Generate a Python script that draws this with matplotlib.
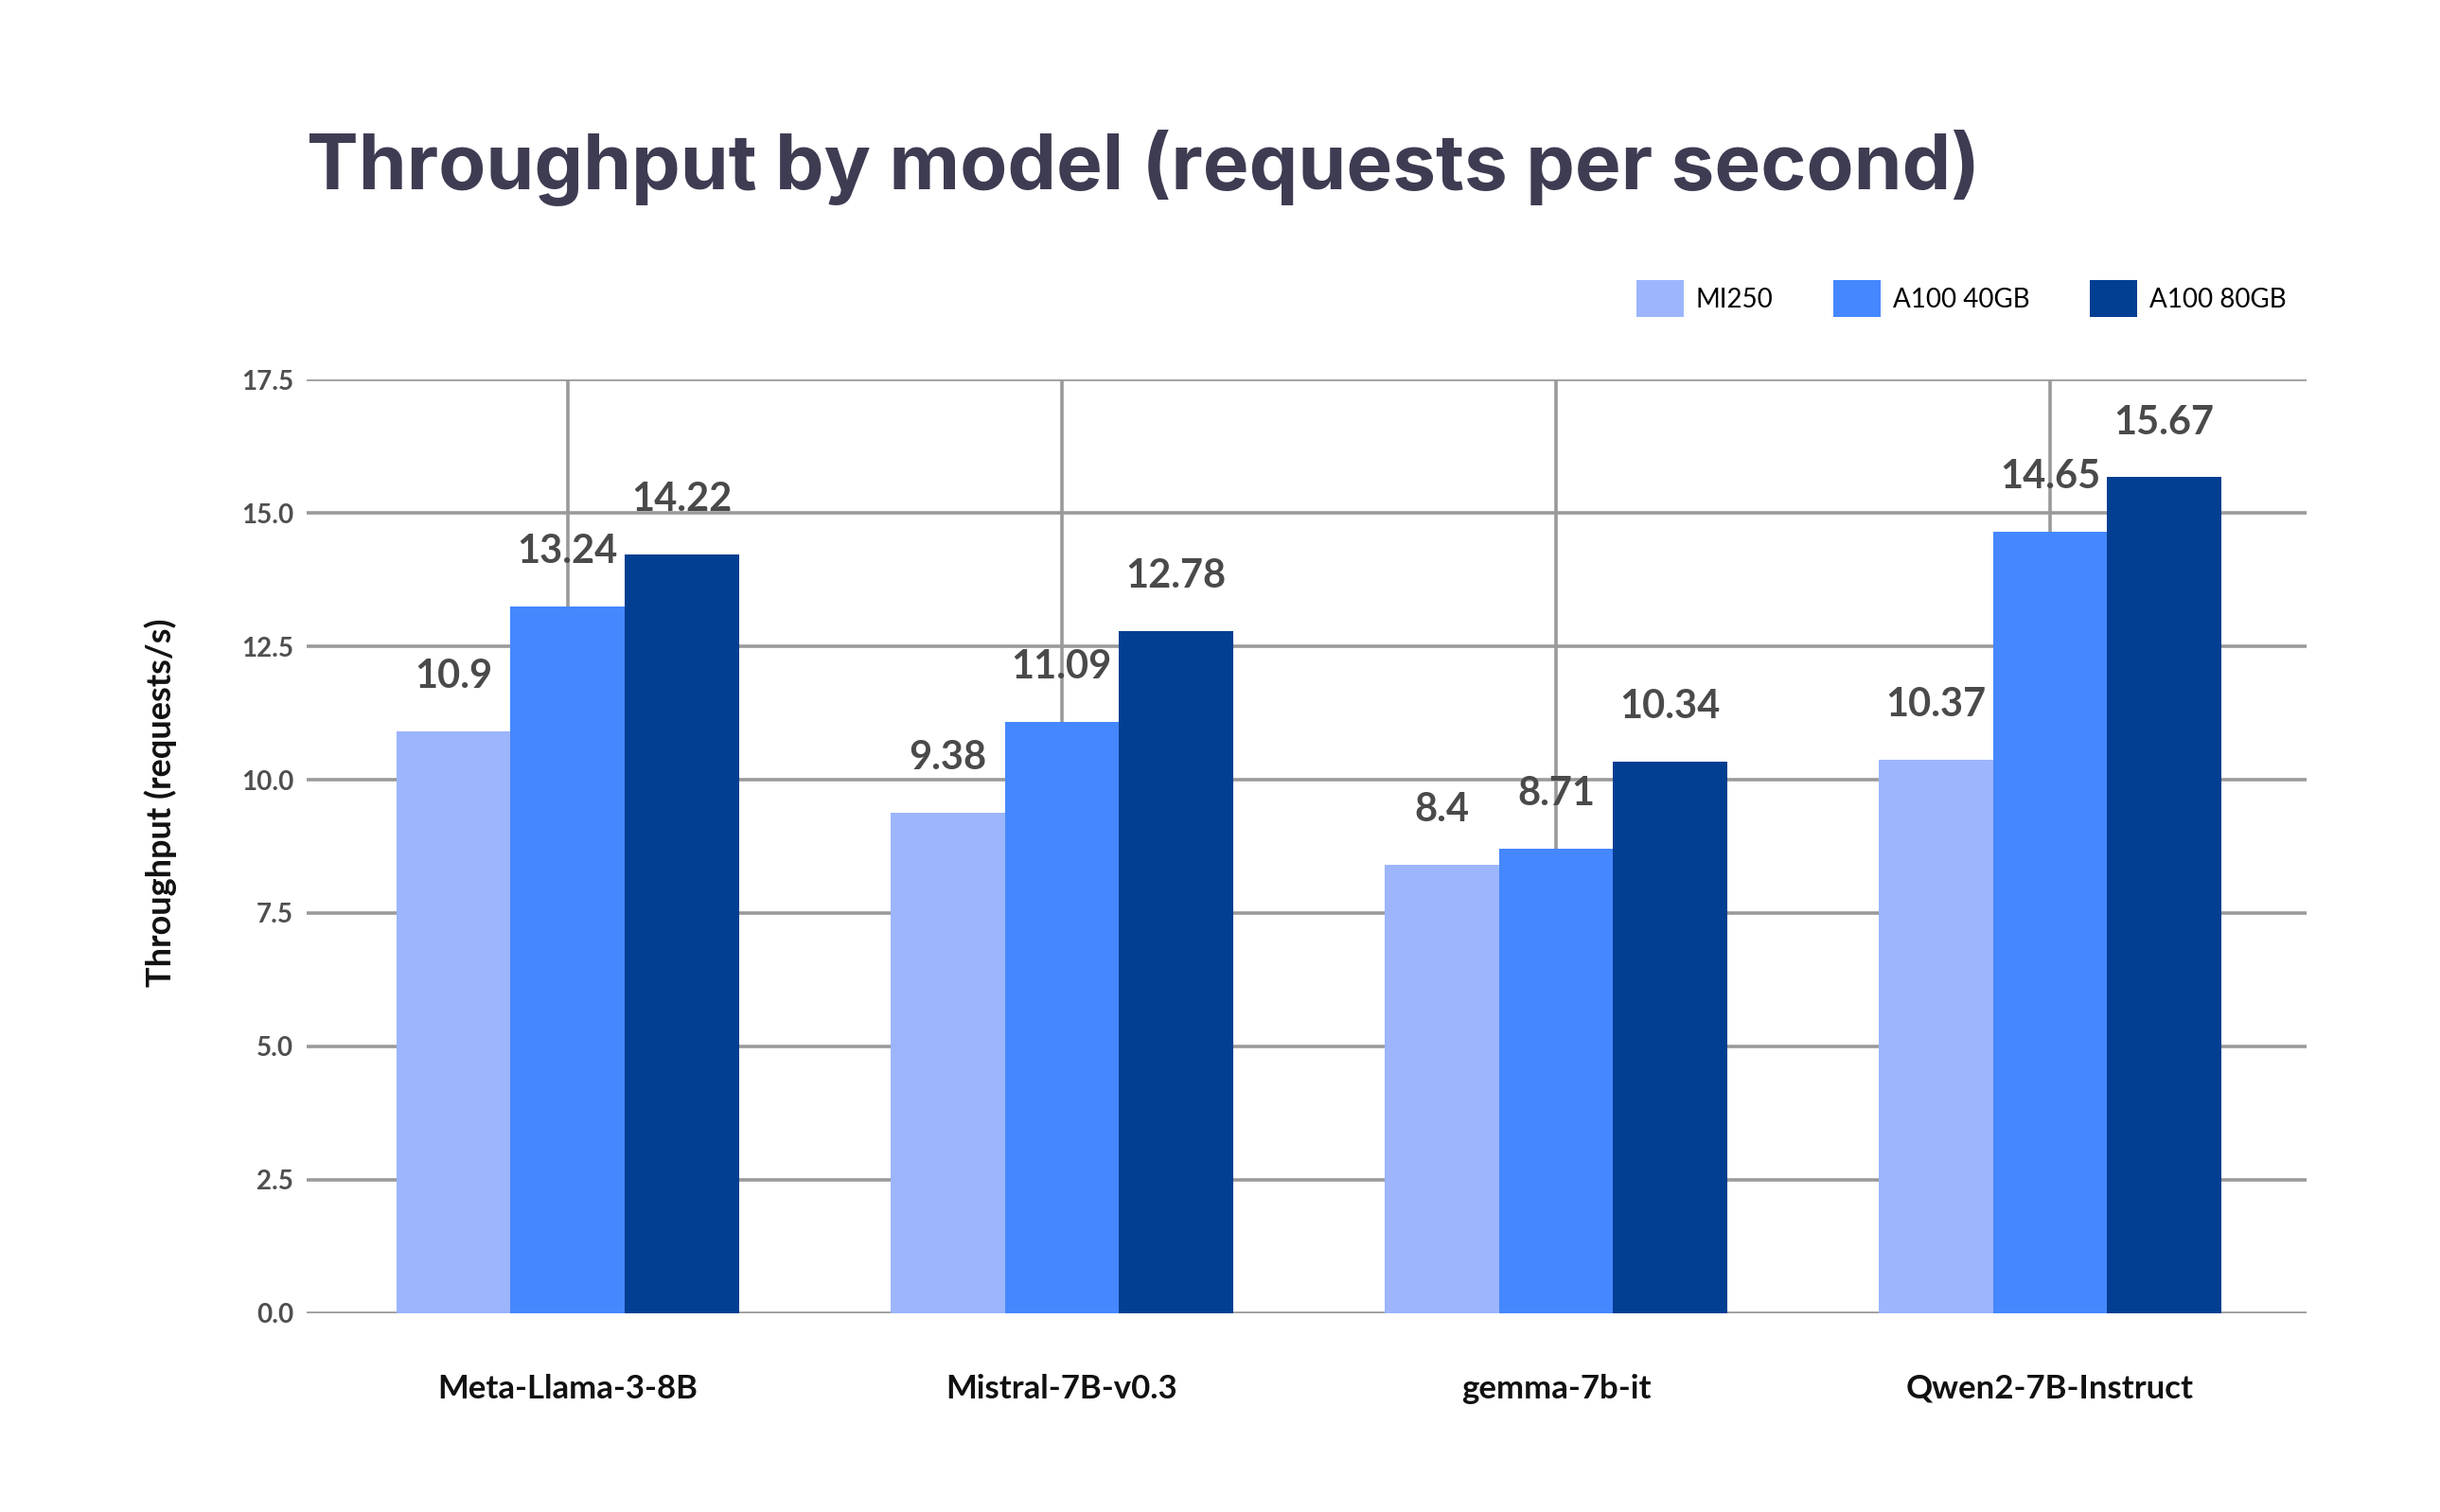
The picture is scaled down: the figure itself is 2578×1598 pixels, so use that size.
import matplotlib
matplotlib.use("Agg")
import matplotlib.pyplot as plt
import numpy as np
from matplotlib.patches import Patch

models = ["Meta-Llama-3-8B", "Mistral-7B-v0.3", "gemma-7b-it", "Qwen2-7B-Instruct"]
series_names = ["MI250", "A100 40GB", "A100 80GB"]
mi250 = [10.9, 9.38, 8.4, 10.37]
a100_40 = [13.24, 11.09, 8.71, 14.65]
a100_80 = [14.22, 12.78, 10.34, 15.67]
value_labels = [["10.9", "9.38", "8.4", "10.37"],
                ["13.24", "11.09", "8.71", "14.65"],
                ["14.22", "12.78", "10.34", "15.67"]]
yticks = [0.0, 2.5, 5.0, 7.5, 10.0, 12.5, 15.0, 17.5]

colors = ["#9CB5FD", "#4587FE", "#023E92"]
title_color = "#3D3C52"
grid_color = "#9A9A9A"
tick_color = "#4F4F4F"

plt.rcParams['font.family'] = ['Lato', 'DejaVu Sans']

fig = plt.figure(figsize=(25.78, 15.98), dpi=100)
ax = fig.add_axes([0.1257, 0.1316, 0.8198, 0.6173])

x = np.arange(len(models))
w = 0.231
data = [mi250, a100_40, a100_80]
for i, (vals, c) in enumerate(zip(data, colors)):
    pos = x + (i - 1) * w
    ax.bar(pos, vals, width=w, color=c, zorder=3, linewidth=0)
    for p, v, lab in zip(pos, vals, value_labels[i]):
        ax.annotate(lab, (p, v), xytext=(0, 28), textcoords="offset points",
                    ha="center", va="bottom", fontsize=30, fontweight="bold",
                    color="#4A4A4A", zorder=4)

ax.set_ylim(0, 17.5)
ax.set_xlim(-0.528, 3.52)
ax.set_yticks(yticks)
ax.set_yticklabels([f"{t:.1f}" for t in yticks], fontsize=20, fontweight="bold", color=tick_color)
ax.set_xticks(x)
ax.set_xticklabels(models, fontsize=25, fontweight="bold", color="#111111")
ax.tick_params(axis="y", length=0, pad=10)
ax.tick_params(axis="x", length=0, pad=46)
for s in ax.spines.values():
    s.set_visible(False)
ax.grid(True, axis="both", color=grid_color, linewidth=2.6, zorder=0)
ax.set_axisbelow(True)

fig.text(0.066, 0.469, "Throughput (requests/s)", rotation=90, ha="center", va="center",
         fontsize=26, fontweight="bold", color="#111111")

fig.text(0.1257, 0.875, "Throughput by model (requests per second)", ha="left", va="baseline",
         fontsize=59, fontweight="bold", color=title_color, family=["Inter", "DejaVu Sans"])

handles = [Patch(facecolor=c, edgecolor="none") for c in colors]
leg = fig.legend(handles, series_names, loc="center right", bbox_to_anchor=(0.937, 0.8025),
                 ncol=3, frameon=False, fontsize=20, handlelength=1.8, handleheight=1.8,
                 handletextpad=0.45, columnspacing=2.3, borderaxespad=0, borderpad=0)

fig.savefig("out.png", dpi=100, facecolor="white")
